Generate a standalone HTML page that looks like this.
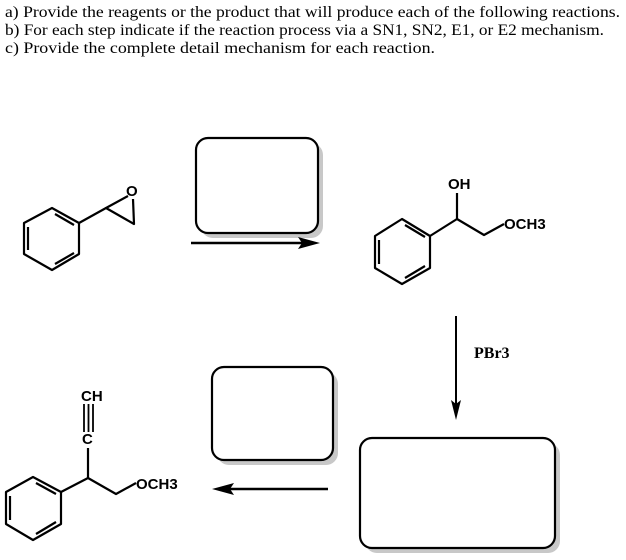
<!DOCTYPE html>
<html><head><style>body{margin:0;background:#fff}svg{display:block}</style></head><body>
<svg width="626" height="560" viewBox="0 0 626 560" xmlns="http://www.w3.org/2000/svg">
<g font-family="Liberation Serif, serif" font-size="16" fill="#000">
<text x="5" y="17" textLength="615" lengthAdjust="spacingAndGlyphs">a) Provide the reagents or the product that will produce each of the following reactions.</text>
<text x="5" y="35" textLength="599" lengthAdjust="spacingAndGlyphs">b) For each step indicate if the reaction process via a SN1, SN2, E1, or E2 mechanism.</text>
<text x="5" y="53" textLength="430" lengthAdjust="spacingAndGlyphs">c) Provide the complete detail mechanism for each reaction.</text>
</g>
<g stroke="#000" stroke-width="2.2" fill="none" stroke-linejoin="round">
<polygon points="52,208 79,223 79,254 52,270 24,254 24,223"/>
<line x1="28" y1="227" x2="28" y2="250"/><line x1="55" y1="214" x2="74" y2="225"/><line x1="55" y1="264" x2="74" y2="253"/>
<line x1="79" y1="223" x2="106" y2="208"/>
<polyline points="128,196 106,208 134,224 133,199"/>
<polygon points="402,219 430,236 430,268 402,284 375,268 375,236"/>
<line x1="379" y1="240" x2="379" y2="264"/><line x1="405" y1="225" x2="425" y2="237"/><line x1="405" y1="278" x2="425" y2="266"/>
<polyline points="430,236 457,219 484,235 504,224"/>
<line x1="457" y1="219" x2="457" y2="193"/>
<polygon points="33,477 61,492 61,524 33,540 6,524 6,492"/>
<line x1="10" y1="496" x2="10" y2="520"/><line x1="36" y1="483" x2="56" y2="494"/><line x1="36" y1="534" x2="56" y2="522"/>
<polyline points="61,492 88,478 116,494 136,483"/>
<line x1="88" y1="478" x2="88" y2="448"/>
<line x1="84" y1="404" x2="84" y2="432" stroke-width="1.8"/><line x1="88.5" y1="404" x2="88.5" y2="432" stroke-width="1.8"/><line x1="93" y1="404" x2="93" y2="432" stroke-width="1.8"/>
</g>
<g font-family="Liberation Sans, sans-serif" font-weight="bold" font-size="15" fill="#000">
<text x="126" y="196">O</text>
<text x="448" y="189">OH</text>
<text x="504" y="229">OCH3</text>
<text x="81" y="401">CH</text>
<text x="82" y="444">C</text>
<text x="136" y="489">OCH3</text>
</g>
<text x="474" y="358" font-family="Liberation Serif, serif" font-weight="bold" font-size="16">PBr3</text>
<g>
<rect x="201" y="143" width="122" height="95" rx="12" fill="#c8c8c8"/>
<rect x="196" y="138" width="122" height="95" rx="12" fill="#fff" stroke="#000" stroke-width="2.2"/>
<rect x="217" y="372" width="121" height="93" rx="12" fill="#c8c8c8"/>
<rect x="212" y="367" width="121" height="93" rx="12" fill="#fff" stroke="#000" stroke-width="2.2"/>
<rect x="365" y="443" width="195" height="110" rx="12" fill="#c8c8c8"/>
<rect x="360" y="438" width="195" height="110" rx="12" fill="#fff" stroke="#000" stroke-width="2.2"/>
</g>
<line x1="191" y1="243" x2="302" y2="243" stroke="#000" stroke-width="2.5"/>
<polygon points="320,243 298,237 302,243 298,249" fill="#000"/>
<line x1="456" y1="316" x2="456" y2="404" stroke="#000" stroke-width="2"/>
<polygon points="456,420 451,400 456,404 461,400" fill="#000"/>
<line x1="230" y1="489" x2="328" y2="489" stroke="#000" stroke-width="2.5"/>
<polygon points="212,489 234,483 230,489 234,495" fill="#000"/>
</svg>
</body></html>
